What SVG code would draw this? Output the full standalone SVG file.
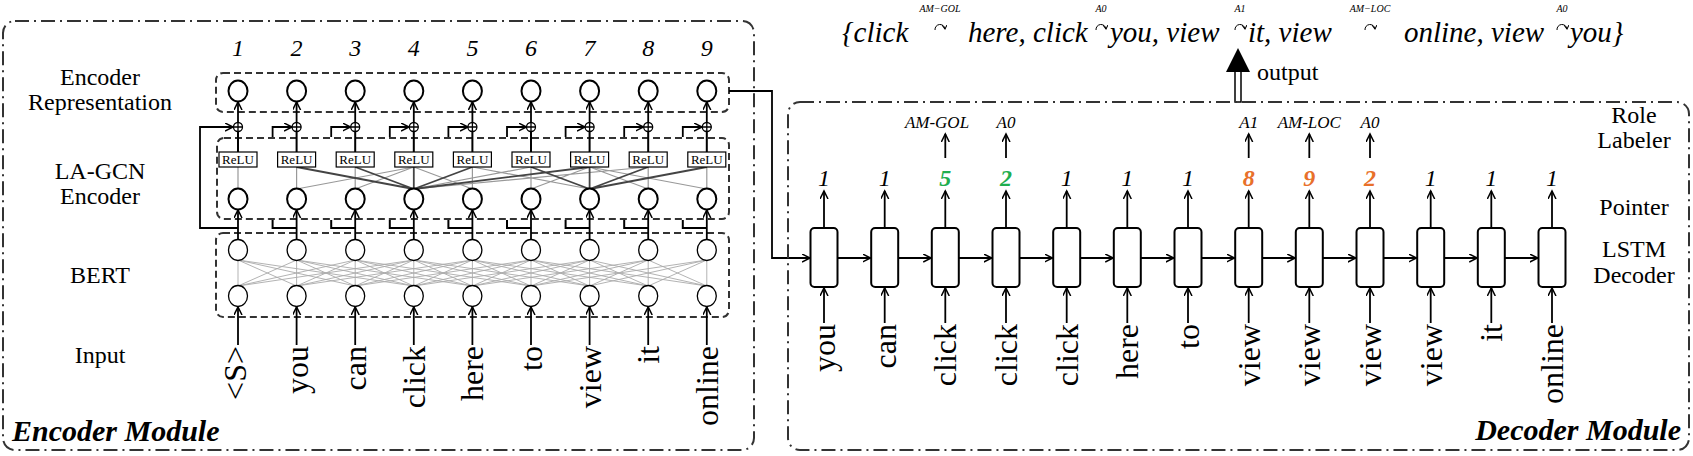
<svg xmlns="http://www.w3.org/2000/svg" width="1693" height="456" viewBox="0 0 1693 456" font-family="'Liberation Serif', 'Times New Roman', 'DejaVu Serif', serif">
<style>
text{font-family:"Liberation Serif","Times New Roman","DejaVu Serif",serif;fill:#000}
.lbl{font-size:24px;text-anchor:middle}
.num{font-size:24px;font-style:italic;text-anchor:middle}
.word{font-size:32px;text-anchor:end}
.mod{font-size:30px;font-weight:bold;font-style:italic}
.ddash{fill:none;stroke:#333;stroke-width:2;stroke-dasharray:14 5 2 5}
.dash{fill:none;stroke:#333;stroke-width:2;stroke-dasharray:7 4}
.node{fill:#fff;stroke:#000;stroke-width:2}
.bnode{fill:#fff;stroke:#000;stroke-width:1.3}
.relu{fill:#fff;stroke:#000;stroke-width:1.2}
.ln{fill:none;stroke:#000;stroke-width:2}
.ar{fill:none;stroke:#000;stroke-width:1.8;marker-end:url(#a)}
.dk{stroke:#444;stroke-width:1.8;fill:none}
.lt{stroke:#999;stroke-width:1.2;fill:none}
.bt{stroke:#aaa;stroke-width:0.9;fill:none}
.role{font-size:17px;font-style:italic;text-anchor:middle}
.ptr{font-size:24px;font-style:italic;text-anchor:middle}
.g{fill:#1fae4f;font-weight:bold}
.o{fill:#e8702a;font-weight:bold}
.f{font-size:29px;font-style:italic}
.sup{font-size:10px;font-style:italic;text-anchor:middle}
</style>
<defs>
<marker id="a" markerUnits="userSpaceOnUse" markerWidth="10" markerHeight="10" refX="8" refY="4" orient="auto"><path d="M0,0 L8,4 L0,8" fill="none" stroke="#000" stroke-width="1.5"/></marker>
<marker id="s" markerUnits="userSpaceOnUse" markerWidth="6" markerHeight="6" refX="4" refY="2.5" orient="auto"><path d="M0,0 L4,2.5 L0,5" fill="none" stroke="#000" stroke-width="1"/></marker>
</defs>

<!-- output formula -->
<g id="formula">
<text class="f" x="842" y="42">{click</text>
<text class="f" x="968" y="42">here, click</text>
<text class="f" x="1110" y="42">you, view</text>
<text class="f" x="1248" y="42">it, view</text>
<text class="f" x="1404" y="42">online, view</text>
<text class="f" x="1570" y="42">you}</text>
<text class="sup" x="940" y="12">AM−GOL</text>
<text class="sup" x="1101" y="12">A0</text>
<text class="sup" x="1240" y="12">A1</text>
<text class="sup" x="1370" y="12">AM−LOC</text>
<text class="sup" x="1562" y="12">A0</text>
<g fill="none" stroke="#000" stroke-width="1" marker-end="url(#s)">
<path d="M935,30 A5,5 0 0 1 945,29"/><path d="M1096,30 A5,5 0 0 1 1106,29"/><path d="M1235,30 A5,5 0 0 1 1245,29"/><path d="M1365,30 A5,5 0 0 1 1375,29"/><path d="M1557,30 A5,5 0 0 1 1567,29"/>
</g>
</g>

<!-- output arrow -->
<g id="output">
<rect x="1235" y="71" width="6" height="31" fill="#fff" stroke="#000" stroke-width="1.5"/>
<path d="M1238,48 L1250,72 L1226,72 Z" fill="#000"/>
<text x="1257" y="80" font-size="24">output</text>
</g>

<!-- Encoder module -->
<g id="encoder-module">
<rect x="3" y="21" width="751" height="429" rx="12" class="ddash"/>
<text class="mod" x="12" y="441">Encoder Module</text>
<text class="lbl" x="100" y="85">Encoder</text>
<text class="lbl" x="100" y="110">Representation</text>
<text class="lbl" x="100" y="179">LA-GCN</text>
<text class="lbl" x="100" y="204">Encoder</text>
<text class="lbl" x="100" y="283">BERT</text>
<text class="lbl" x="100" y="363">Input</text>
</g>

<g id="encoder-representation">
<rect x="216" y="73" width="513" height="39" rx="7" class="dash"/>
</g>
<g id="la-gcn-encoder">
<rect x="217" y="138" width="512" height="81" rx="7" class="dash"/>
</g>
<g id="bert">
<rect x="216" y="233" width="513" height="84" rx="7" class="dash"/>
</g>

<!-- connectors -->
<g id="connectors">
<g class="bt">
<path d="M238,286L296.6,260M238,286L355.2,260M238,286L413.8,260M296.6,286L238,260M296.6,286L355.2,260M296.6,286L413.8,260M296.6,286L472.4,260M355.2,286L238,260M355.2,286L296.6,260M355.2,286L413.8,260M355.2,286L472.4,260M355.2,286L531,260M413.8,286L238,260M413.8,286L296.6,260M413.8,286L355.2,260M413.8,286L472.4,260M413.8,286L531,260M413.8,286L589.6,260M472.4,286L296.6,260M472.4,286L355.2,260M472.4,286L413.8,260M472.4,286L531,260M472.4,286L589.6,260M472.4,286L648.2,260M531,286L355.2,260M531,286L413.8,260M531,286L472.4,260M531,286L589.6,260M531,286L648.2,260M531,286L706.8,260M589.6,286L413.8,260M589.6,286L472.4,260M589.6,286L531,260M589.6,286L648.2,260M589.6,286L706.8,260M648.2,286L472.4,260M648.2,286L531,260M648.2,286L589.6,260M648.2,286L706.8,260M706.8,286L531,260M706.8,286L589.6,260M706.8,286L648.2,260"/>
<path d="M238,286V260M296.6,286V260M355.2,286V260M413.8,286V260M472.4,286V260M531,286V260M589.6,286V260M648.2,286V260M706.8,286V260"/>
</g>
<g class="lt">
<path d="M238,189V167M296.6,189V167M355.2,189V167M472.4,189V167M531,189V167M648.2,189V167M706.8,189V167"/>
<path d="M296.6,189L413.8,167M355.2,189L413.8,167M472.4,189L413.8,167M413.8,189L531,167M413.8,189L648.2,167M589.6,189L472.4,167M531,189L589.6,167M648.2,189L589.6,167M706.8,189L589.6,167"/>
</g>
<g class="dk">
<path d="M413.8,189L296.6,167M413.8,189L355.2,167M413.8,189V167M413.8,189L472.4,167M413.8,189L589.6,167M589.6,189L531,167M589.6,189V167M589.6,189L648.2,167M589.6,189L706.8,167"/>
</g>
<g class="ar">
<path d="M238,345V307"/><path d="M296.6,345V307"/><path d="M355.2,345V307"/><path d="M413.8,345V307"/><path d="M472.4,345V307"/><path d="M531,345V307"/><path d="M589.6,345V307"/><path d="M648.2,345V307"/><path d="M706.8,345V307"/>
<path d="M238,240V210"/><path d="M296.6,240V210"/><path d="M355.2,240V210"/><path d="M413.8,240V210"/><path d="M472.4,240V210"/><path d="M531,240V210"/><path d="M589.6,240V210"/><path d="M648.2,240V210"/><path d="M706.8,240V210"/>
<path d="M238,122.5V102"/><path d="M296.6,122.5V102"/><path d="M355.2,122.5V102"/><path d="M413.8,122.5V102"/><path d="M472.4,122.5V102"/><path d="M531,122.5V102"/><path d="M589.6,122.5V102"/><path d="M648.2,122.5V102"/><path d="M706.8,122.5V102"/>
</g>
<g class="ln">
<path d="M238,152V131.5M296.6,152V131.5M355.2,152V131.5M413.8,152V131.5M472.4,152V131.5M531,152V131.5M589.6,152V131.5M648.2,152V131.5M706.8,152V131.5"/>
</g>
<g class="ar">
<path d="M238,228H200V127H233"/>
<path d="M272.6,137V127H292"/><path d="M331.2,137V127H350.5"/><path d="M389.8,137V127H409"/><path d="M448.4,137V127H468"/><path d="M507,137V127H526.5"/><path d="M565.6,137V127H585"/><path d="M624.2,137V127H643.5"/><path d="M682.8,137V127H702"/>
</g>
<g class="ln">
<path d="M296.6,228H272.6V220M355.2,228H331.2V220M413.8,228H389.8V220M472.4,228H448.4V220M531,228H507V220M589.6,228H565.6V220M648.2,228H624.2V220M706.8,228H682.8V220"/>
</g>
<path class="ar" d="M729,91H772V258H810"/>
<g class="ar" stroke-width="1.6">
<path d="M837.5,258H870.5"/><path d="M898.2,258H931.2"/><path d="M958.8,258H991.8"/><path d="M1019.5,258H1052.5"/><path d="M1080.2,258H1113.2"/><path d="M1140.8,258H1173.8"/><path d="M1201.5,258H1234.5"/><path d="M1262.2,258H1295.2"/><path d="M1322.8,258H1355.8"/><path d="M1383.5,258H1416.5"/><path d="M1444.2,258H1477.2"/><path d="M1504.8,258H1537.8"/>
</g>
<g class="ar" stroke-width="1.6">
<path d="M824,323V288"/><path d="M884.7,323V288"/><path d="M945.3,323V288"/><path d="M1006,323V288"/><path d="M1066.7,323V288"/><path d="M1127.3,323V288"/><path d="M1188,323V288"/><path d="M1248.7,323V288"/><path d="M1309.3,323V288"/><path d="M1370,323V288"/><path d="M1430.7,323V288"/><path d="M1491.3,323V288"/><path d="M1552,323V288"/>
<path d="M824,228V191"/><path d="M884.7,228V191"/><path d="M945.3,228V191"/><path d="M1006,228V191"/><path d="M1066.7,228V191"/><path d="M1127.3,228V191"/><path d="M1188,228V191"/><path d="M1248.7,228V191"/><path d="M1309.3,228V191"/><path d="M1370,228V191"/><path d="M1430.7,228V191"/><path d="M1491.3,228V191"/><path d="M1552,228V191"/>
<path d="M945.3,158V134"/><path d="M1006,158V134"/><path d="M1248.7,158V134"/><path d="M1309.3,158V134"/><path d="M1370,158V134"/>
</g>
</g>

<g id="encoder-columns">
<text class="num" x="238" y="56">1</text><text class="num" x="296.6" y="56">2</text><text class="num" x="355.2" y="56">3</text><text class="num" x="413.8" y="56">4</text><text class="num" x="472.4" y="56">5</text><text class="num" x="531" y="56">6</text><text class="num" x="589.6" y="56">7</text><text class="num" x="648.2" y="56">8</text><text class="num" x="706.8" y="56">9</text>
<g class="node">
<ellipse cx="238" cy="91" rx="9.5" ry="10.5"/><ellipse cx="296.6" cy="91" rx="9.5" ry="10.5"/><ellipse cx="355.2" cy="91" rx="9.5" ry="10.5"/><ellipse cx="413.8" cy="91" rx="9.5" ry="10.5"/><ellipse cx="472.4" cy="91" rx="9.5" ry="10.5"/><ellipse cx="531" cy="91" rx="9.5" ry="10.5"/><ellipse cx="589.6" cy="91" rx="9.5" ry="10.5"/><ellipse cx="648.2" cy="91" rx="9.5" ry="10.5"/><ellipse cx="706.8" cy="91" rx="9.5" ry="10.5"/>
<ellipse cx="238" cy="199" rx="9.5" ry="10.5"/><ellipse cx="296.6" cy="199" rx="9.5" ry="10.5"/><ellipse cx="355.2" cy="199" rx="9.5" ry="10.5"/><ellipse cx="413.8" cy="199" rx="9.5" ry="10.5"/><ellipse cx="472.4" cy="199" rx="9.5" ry="10.5"/><ellipse cx="531" cy="199" rx="9.5" ry="10.5"/><ellipse cx="589.6" cy="199" rx="9.5" ry="10.5"/><ellipse cx="648.2" cy="199" rx="9.5" ry="10.5"/><ellipse cx="706.8" cy="199" rx="9.5" ry="10.5"/>
</g>
<g class="bnode">
<ellipse cx="238" cy="250" rx="9.5" ry="10.5"/><ellipse cx="296.6" cy="250" rx="9.5" ry="10.5"/><ellipse cx="355.2" cy="250" rx="9.5" ry="10.5"/><ellipse cx="413.8" cy="250" rx="9.5" ry="10.5"/><ellipse cx="472.4" cy="250" rx="9.5" ry="10.5"/><ellipse cx="531" cy="250" rx="9.5" ry="10.5"/><ellipse cx="589.6" cy="250" rx="9.5" ry="10.5"/><ellipse cx="648.2" cy="250" rx="9.5" ry="10.5"/><ellipse cx="706.8" cy="250" rx="9.5" ry="10.5"/>
<ellipse cx="238" cy="296" rx="9.5" ry="10.5"/><ellipse cx="296.6" cy="296" rx="9.5" ry="10.5"/><ellipse cx="355.2" cy="296" rx="9.5" ry="10.5"/><ellipse cx="413.8" cy="296" rx="9.5" ry="10.5"/><ellipse cx="472.4" cy="296" rx="9.5" ry="10.5"/><ellipse cx="531" cy="296" rx="9.5" ry="10.5"/><ellipse cx="589.6" cy="296" rx="9.5" ry="10.5"/><ellipse cx="648.2" cy="296" rx="9.5" ry="10.5"/><ellipse cx="706.8" cy="296" rx="9.5" ry="10.5"/>
</g>
<g fill="#fff" stroke="#000" stroke-width="1.3">
<circle cx="238" cy="127" r="4.5"/><circle cx="296.6" cy="127" r="4.5"/><circle cx="355.2" cy="127" r="4.5"/><circle cx="413.8" cy="127" r="4.5"/><circle cx="472.4" cy="127" r="4.5"/><circle cx="531" cy="127" r="4.5"/><circle cx="589.6" cy="127" r="4.5"/><circle cx="648.2" cy="127" r="4.5"/><circle cx="706.8" cy="127" r="4.5"/>
<path d="M233.5,127h9M238,122.5v9M292.1,127h9M296.6,122.5v9M350.7,127h9M355.2,122.5v9M409.3,127h9M413.8,122.5v9M467.9,127h9M472.4,122.5v9M526.5,127h9M531,122.5v9M585.1,127h9M589.6,122.5v9M643.7,127h9M648.2,122.5v9M702.3,127h9M706.8,122.5v9"/>
</g>
<g>
<rect class="relu" x="219" y="152" width="38" height="15"/><rect class="relu" x="277.6" y="152" width="38" height="15"/><rect class="relu" x="336.2" y="152" width="38" height="15"/><rect class="relu" x="394.8" y="152" width="38" height="15"/><rect class="relu" x="453.4" y="152" width="38" height="15"/><rect class="relu" x="512" y="152" width="38" height="15"/><rect class="relu" x="570.6" y="152" width="38" height="15"/><rect class="relu" x="629.2" y="152" width="38" height="15"/><rect class="relu" x="687.8" y="152" width="38" height="15"/>
<g font-size="13" text-anchor="middle">
<text x="238" y="164">ReLU</text><text x="296.6" y="164">ReLU</text><text x="355.2" y="164">ReLU</text><text x="413.8" y="164">ReLU</text><text x="472.4" y="164">ReLU</text><text x="531" y="164">ReLU</text><text x="589.6" y="164">ReLU</text><text x="648.2" y="164">ReLU</text><text x="706.8" y="164">ReLU</text>
</g>
</g>
<text class="word" font-size="22" transform="translate(246,346) rotate(-90)">&lt;S&gt;</text>
<text class="word" transform="translate(307.6,346) rotate(-90)">you</text>
<text class="word" transform="translate(366.2,346) rotate(-90)">can</text>
<text class="word" transform="translate(424.8,346) rotate(-90)">click</text>
<text class="word" transform="translate(483.4,346) rotate(-90)">here</text>
<text class="word" transform="translate(542,346) rotate(-90)">to</text>
<text class="word" transform="translate(600.6,346) rotate(-90)">view</text>
<text class="word" transform="translate(659.2,346) rotate(-90)">it</text>
<text class="word" transform="translate(717.8,346) rotate(-90)">online</text>
</g>

<g id="decoder-module">
<rect x="788" y="102" width="901" height="348" rx="12" class="ddash"/>
<text class="mod" x="1681" y="440" text-anchor="end">Decoder Module</text>
<text class="lbl" x="1634" y="123">Role</text>
<text class="lbl" x="1634" y="148">Labeler</text>
<text class="lbl" x="1634" y="215">Pointer</text>
<text class="lbl" x="1634" y="257">LSTM</text>
<text class="lbl" x="1634" y="283">Decoder</text>
</g>

<g id="lstm-cells" class="node">
<rect x="810.5" y="228" width="27" height="59" rx="4"/><rect x="871.2" y="228" width="27" height="59" rx="4"/><rect x="931.8" y="228" width="27" height="59" rx="4"/><rect x="992.5" y="228" width="27" height="59" rx="4"/><rect x="1053.2" y="228" width="27" height="59" rx="4"/><rect x="1113.8" y="228" width="27" height="59" rx="4"/><rect x="1174.5" y="228" width="27" height="59" rx="4"/><rect x="1235.2" y="228" width="27" height="59" rx="4"/><rect x="1295.8" y="228" width="27" height="59" rx="4"/><rect x="1356.5" y="228" width="27" height="59" rx="4"/><rect x="1417.2" y="228" width="27" height="59" rx="4"/><rect x="1477.8" y="228" width="27" height="59" rx="4"/><rect x="1538.5" y="228" width="27" height="59" rx="4"/>
</g>

<g id="pointer-labels">
<text class="ptr" x="824" y="186">1</text><text class="ptr" x="884.7" y="186">1</text><text class="ptr g" x="945.3" y="186">5</text><text class="ptr g" x="1006" y="186">2</text><text class="ptr" x="1066.7" y="186">1</text><text class="ptr" x="1127.3" y="186">1</text><text class="ptr" x="1188" y="186">1</text><text class="ptr o" x="1248.7" y="186">8</text><text class="ptr o" x="1309.3" y="186">9</text><text class="ptr o" x="1370" y="186">2</text><text class="ptr" x="1430.7" y="186">1</text><text class="ptr" x="1491.3" y="186">1</text><text class="ptr" x="1552" y="186">1</text>
</g>

<g id="role-labels">
<text class="role" x="937" y="128">AM-GOL</text><text class="role" x="1006" y="128">A0</text><text class="role" x="1248.7" y="128">A1</text><text class="role" x="1309.3" y="128">AM-LOC</text><text class="role" x="1370" y="128">A0</text>
</g>

<g id="decoder-inputs">
<text class="word" transform="translate(835,324) rotate(-90)">you</text>
<text class="word" transform="translate(895.7,324) rotate(-90)">can</text>
<text class="word" transform="translate(956.3,324) rotate(-90)">click</text>
<text class="word" transform="translate(1017,324) rotate(-90)">click</text>
<text class="word" transform="translate(1077.7,324) rotate(-90)">click</text>
<text class="word" transform="translate(1138.3,324) rotate(-90)">here</text>
<text class="word" transform="translate(1199,324) rotate(-90)">to</text>
<text class="word" transform="translate(1259.7,324) rotate(-90)">view</text>
<text class="word" transform="translate(1320.3,324) rotate(-90)">view</text>
<text class="word" transform="translate(1381,324) rotate(-90)">view</text>
<text class="word" transform="translate(1441.7,324) rotate(-90)">view</text>
<text class="word" transform="translate(1502.3,324) rotate(-90)">it</text>
<text class="word" transform="translate(1563,324) rotate(-90)">online</text>
</g>
</svg>
